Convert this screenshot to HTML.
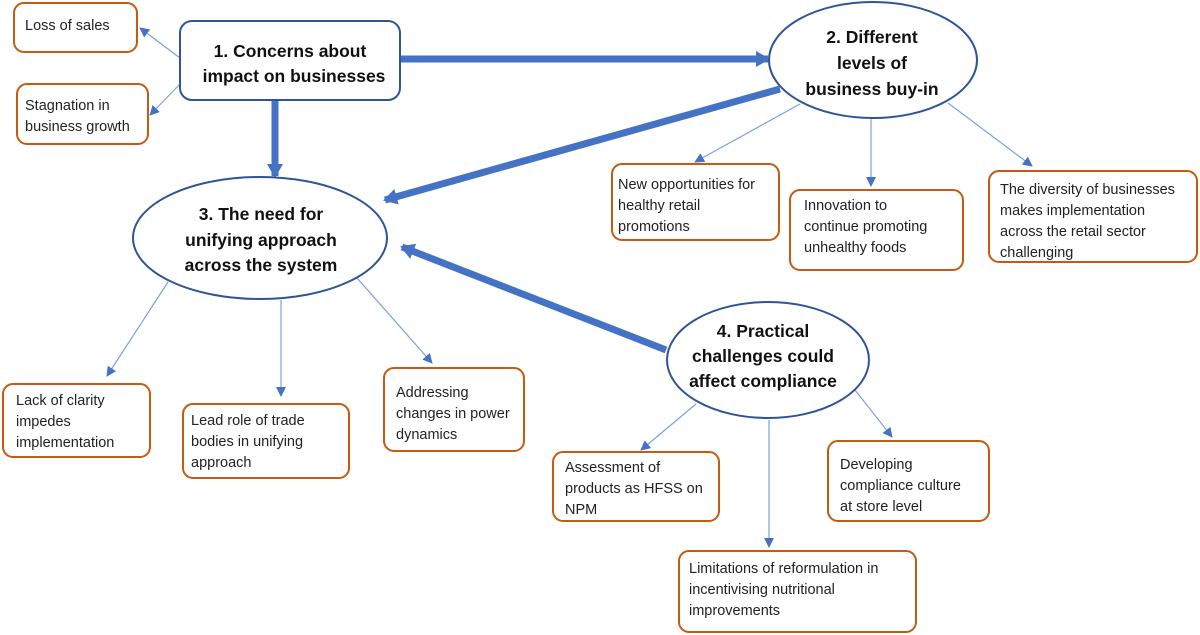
<!DOCTYPE html>
<html><head><meta charset="utf-8"><style>
html,body{margin:0;padding:0;background:#fff;width:1200px;height:635px;overflow:hidden}
svg{display:block}
.b{font-family:"Liberation Sans",sans-serif;font-weight:bold;font-size:17.5px;fill:#111;text-anchor:middle}
.s{font-family:"Liberation Sans",sans-serif;font-size:14.5px;fill:#222}
.o{fill:#fff;stroke:#C55A11;stroke-width:2}
.m{fill:#fff;stroke:#2F5597;stroke-width:2}
.t{stroke:#7BA0DC;stroke-width:1.2;marker-end:url(#sa)}
.k{stroke:#4472C4;stroke-width:7;marker-end:url(#ka)}
</style></head><body>
<svg width="1200" height="635" viewBox="0 0 1200 635" xmlns="http://www.w3.org/2000/svg">
<defs>
<marker id="sa" markerWidth="10" markerHeight="10" refX="9" refY="5" orient="auto" markerUnits="userSpaceOnUse"><path d="M0,0 L10,5 L0,10 z" fill="#4472C4"/></marker>
<marker id="ka" markerWidth="14" markerHeight="16" refX="12" refY="8" orient="auto" markerUnits="userSpaceOnUse"><path d="M0,0 L14,8 L0,16 z" fill="#4472C4"/></marker>
</defs>
<!-- thin connectors -->
<line class="t" x1="180" y1="58" x2="140" y2="28"/>
<line class="t" x1="180" y1="84" x2="150" y2="115"/>
<line class="t" x1="800" y1="104" x2="695" y2="162"/>
<line class="t" x1="871" y1="119" x2="871" y2="186"/>
<line class="t" x1="948" y1="103" x2="1032" y2="166"/>
<line class="t" x1="168" y1="282" x2="107" y2="376"/>
<line class="t" x1="281" y1="300" x2="281" y2="396"/>
<line class="t" x1="357" y1="278" x2="432" y2="363"/>
<line class="t" x1="696" y1="404" x2="641" y2="450"/>
<line class="t" x1="769" y1="420" x2="769" y2="547"/>
<line class="t" x1="855" y1="390" x2="892" y2="437"/>
<!-- thick -->
<line class="k" x1="400" y1="59" x2="768" y2="59"/>
<line class="k" x1="275" y1="100" x2="275" y2="176"/>
<line class="k" x1="780" y1="89" x2="385" y2="200"/>
<line class="k" x1="666" y1="350" x2="402" y2="247"/>
<!-- main nodes -->
<rect class="m" x="180" y="21" width="220" height="79" rx="12"/>
<text class="b" x="290" y="57">1. Concerns about</text>
<text class="b" x="294" y="82">impact on businesses</text>
<ellipse class="m" cx="873" cy="60" rx="104" ry="58"/>
<text class="b" x="872" y="43">2. Different</text>
<text class="b" x="872" y="69">levels of</text>
<text class="b" x="872" y="95">business buy-in</text>
<ellipse class="m" cx="260" cy="238" rx="127" ry="61"/>
<text class="b" x="261" y="220">3. The need for</text>
<text class="b" x="261" y="246">unifying approach</text>
<text class="b" x="261" y="271">across the system</text>
<ellipse class="m" cx="768" cy="360" rx="101" ry="58"/>
<text class="b" x="763" y="337">4. Practical</text>
<text class="b" x="763" y="362">challenges could</text>
<text class="b" x="763" y="387">affect compliance</text>
<!-- orange boxes -->
<rect class="o" x="14" y="3" width="123" height="49" rx="10"/>
<text class="s" x="25" y="30">Loss of sales</text>
<rect class="o" x="17" y="84" width="131" height="60" rx="10"/>
<text class="s" x="25" y="110">Stagnation in</text>
<text class="s" x="25" y="131">business growth</text>
<rect class="o" x="612" y="164" width="167" height="76" rx="10"/>
<text class="s" x="618" y="189">New opportunities for</text>
<text class="s" x="618" y="210">healthy retail</text>
<text class="s" x="618" y="231">promotions</text>
<rect class="o" x="790" y="190" width="173" height="80" rx="10"/>
<text class="s" x="804" y="210">Innovation to</text>
<text class="s" x="804" y="231">continue promoting</text>
<text class="s" x="804" y="252">unhealthy foods</text>
<rect class="o" x="989" y="171" width="208" height="91" rx="10"/>
<text class="s" x="1000" y="194">The diversity of businesses</text>
<text class="s" x="1000" y="215">makes implementation</text>
<text class="s" x="1000" y="236">across the retail sector</text>
<text class="s" x="1000" y="257">challenging</text>
<rect class="o" x="3" y="384" width="147" height="73" rx="10"/>
<text class="s" x="16" y="405">Lack of clarity</text>
<text class="s" x="16" y="426">impedes</text>
<text class="s" x="16" y="447">implementation</text>
<rect class="o" x="183" y="404" width="166" height="74" rx="10"/>
<text class="s" x="191" y="425">Lead role of trade</text>
<text class="s" x="191" y="446">bodies in unifying</text>
<text class="s" x="191" y="467">approach</text>
<rect class="o" x="384" y="368" width="140" height="83" rx="10"/>
<text class="s" x="385" y="397" dx="11">Addressing</text>
<text class="s" x="396" y="418">changes in power</text>
<text class="s" x="396" y="439">dynamics</text>
<rect class="o" x="553" y="452" width="166" height="69" rx="10"/>
<text class="s" x="565" y="472">Assessment of</text>
<text class="s" x="565" y="493">products as HFSS on</text>
<text class="s" x="565" y="514">NPM</text>
<rect class="o" x="828" y="441" width="161" height="80" rx="10"/>
<text class="s" x="840" y="469">Developing</text>
<text class="s" x="840" y="490">compliance culture</text>
<text class="s" x="840" y="511">at store level</text>
<rect class="o" x="679" y="551" width="237" height="81" rx="10"/>
<text class="s" x="689" y="573">Limitations of reformulation in</text>
<text class="s" x="689" y="594">incentivising nutritional</text>
<text class="s" x="689" y="615">improvements</text>
</svg>
</body></html>
